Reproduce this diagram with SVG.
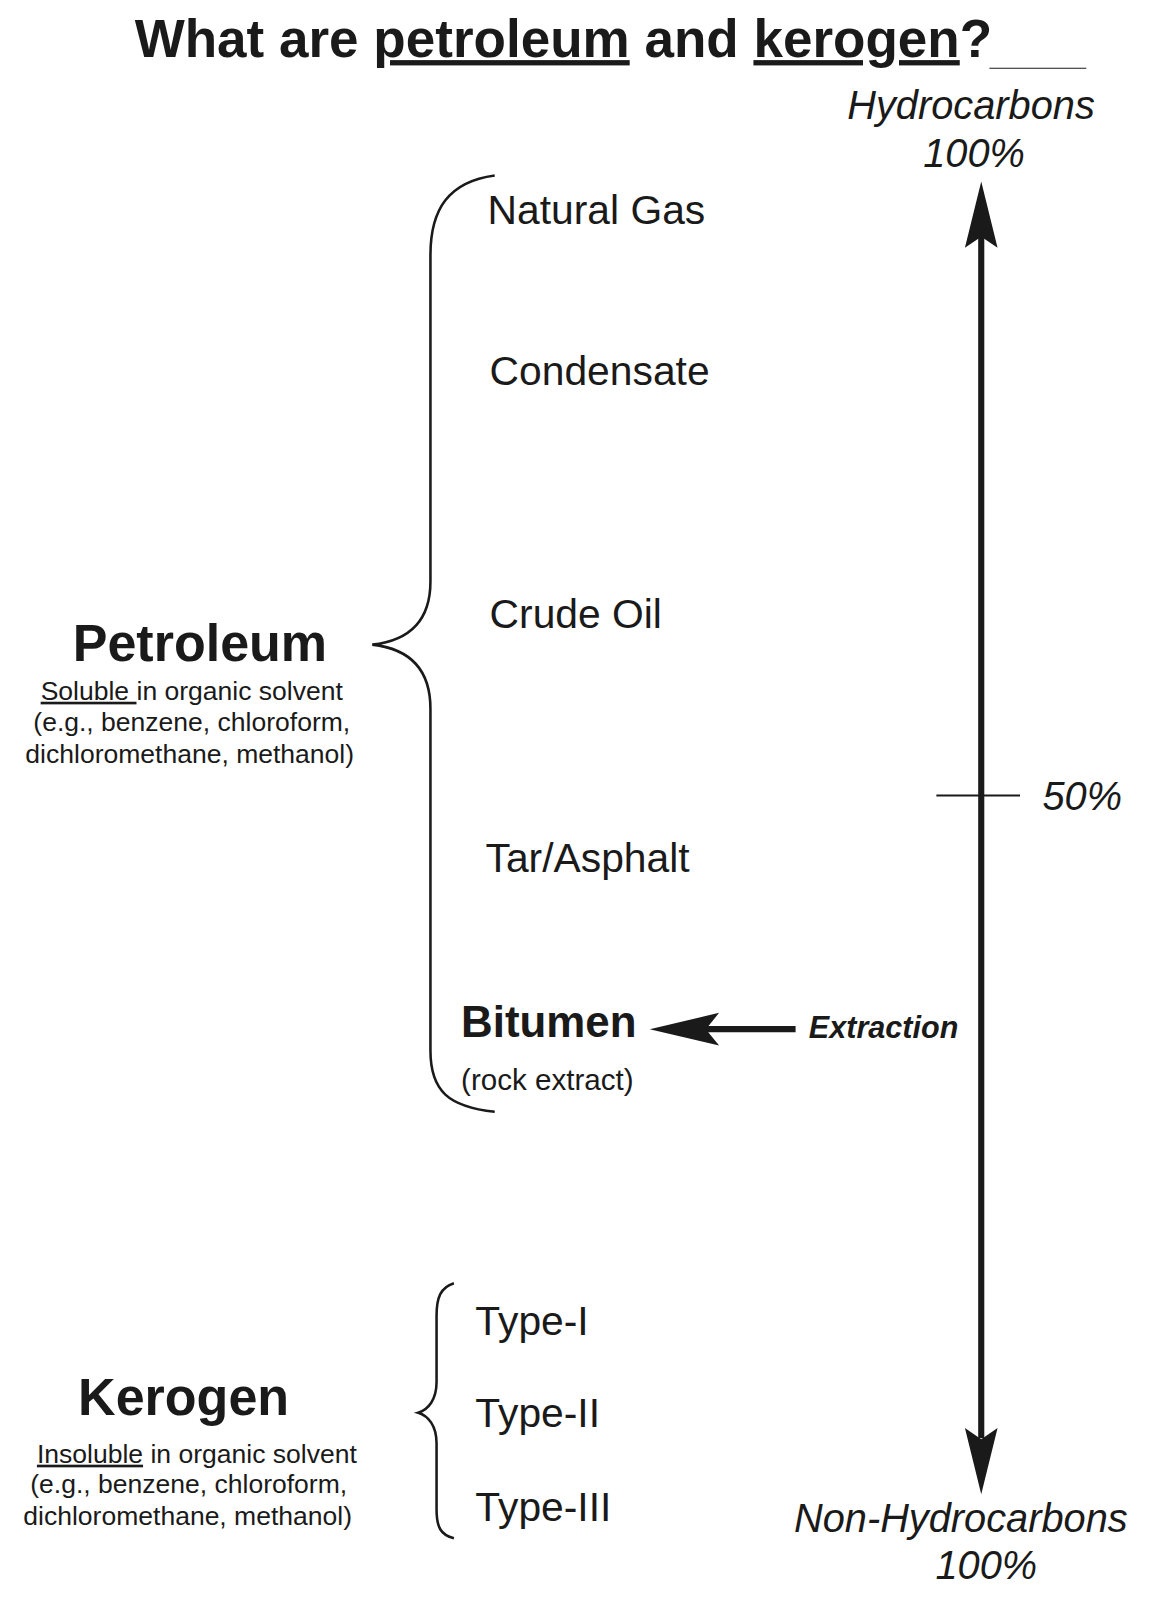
<svg xmlns="http://www.w3.org/2000/svg" width="1153" height="1600" viewBox="0 0 1153 1600">
<style>
text{font-family:"Liberation Sans",Arial,sans-serif;fill:#1a1a1a}
.lbl{font-size:40px}
.it{font-style:italic;font-size:39px}
.big{font-size:51px;font-weight:bold}
.sm{font-size:26px}
.ln{stroke:#1a1a1a;fill:none}
.u{text-decoration:underline}
</style>
<rect width="1153" height="1600" fill="#fff"/>
<g transform="scale(1.02)">
<g id="title">
<text x="132" y="56" font-size="52" font-weight="bold">What are <tspan class="u">petroleum</tspan> and <tspan class="u">kerogen</tspan>?</text>
<line class="ln" x1="970" y1="67" x2="1065" y2="67" stroke-width="1"/>
</g>
<g id="connectors">
<line class="ln" x1="962" y1="230" x2="962" y2="1410" stroke-width="6"/>
<polygon points="962,178 978,243 962,232 946,243" fill="#1a1a1a"/>
<polygon points="962,1465 978,1400 962,1411 946,1400" fill="#1a1a1a"/>
<line class="ln" x1="918" y1="780" x2="1000" y2="780" stroke-width="2"/>
<line class="ln" x1="690" y1="1009" x2="780" y2="1009" stroke-width="6"/>
<polygon points="637,1009 705,993 692,1009 705,1025" fill="#1a1a1a"/>
<path class="ln" stroke-width="2.5" d="M485,172 C440,178 422,205 422,250 L422,570 C422,610 400,628 365,632 C400,636 422,655 422,695 L422,1030 C422,1070 440,1085 485,1090"/>
<path class="ln" stroke-width="2.5" d="M445,1258 C432,1262 428,1272 428,1290 L428,1355 C428,1372 420,1382 410,1385 C420,1388 428,1398 428,1415 L428,1480 C428,1497 432,1505 445,1508"/>
</g>
<g id="hydro"><text class="it" x="952" y="117" text-anchor="middle">Hydrocarbons</text><text class="it" x="955" y="164" text-anchor="middle">100%</text></g>
<g id="nonhydro"><text class="it" x="942" y="1502" text-anchor="middle">Non-Hydrocarbons</text><text class="it" x="967" y="1548" text-anchor="middle">100%</text></g>
<g id="p50"><text class="it" x="1022" y="794" font-size="37">50%</text></g>
<g id="natgas"><text class="lbl" x="478" y="220">Natural Gas</text></g>
<g id="condensate"><text class="lbl" x="480" y="377">Condensate</text></g>
<g id="crude"><text class="lbl" x="480" y="616">Crude Oil</text></g>
<g id="tar"><text class="lbl" x="476" y="855">Tar/Asphalt</text></g>
<g id="bitumen"><text x="452" y="1017" font-size="43" font-weight="bold">Bitumen</text><text x="452" y="1069" font-size="29">(rock extract)</text></g>
<g id="extraction"><text x="793" y="1018" font-size="30" font-weight="bold" font-style="italic">Extraction</text></g>
<g id="petroleum">
<text class="big" x="196" y="648" text-anchor="middle">Petroleum</text>
<text class="sm" x="188" y="686" text-anchor="middle"><tspan class="u">Soluble </tspan>in organic solvent</text>
<text class="sm" x="188" y="717" text-anchor="middle">(e.g., benzene, chloroform,</text>
<text class="sm" x="186" y="748" text-anchor="middle">dichloromethane, methanol)</text>
</g>
<g id="kerogen">
<text class="big" x="180" y="1387" text-anchor="middle">Kerogen</text>
<text class="sm" x="193" y="1434" text-anchor="middle"><tspan class="u">Insoluble</tspan> in organic solvent</text>
<text class="sm" x="185" y="1464" text-anchor="middle">(e.g., benzene, chloroform,</text>
<text class="sm" x="184" y="1495" text-anchor="middle">dichloromethane, methanol)</text>
</g>
<g id="t1"><text class="lbl" x="466" y="1309">Type-I</text></g>
<g id="t2"><text class="lbl" x="466" y="1399">Type-II</text></g>
<g id="t3"><text class="lbl" x="466" y="1491">Type-III</text></g>
</g>
</svg>
